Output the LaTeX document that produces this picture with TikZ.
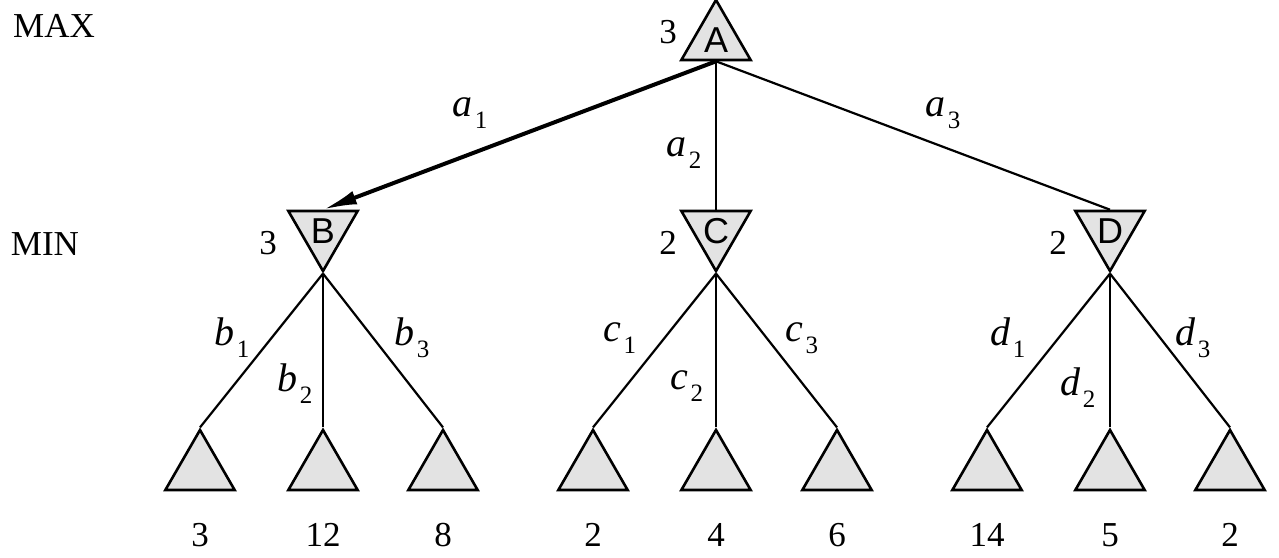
\documentclass[tikz,border=0pt]{standalone}
\usepackage{fontspec}
\setmainfont{Liberation Serif}
\newfontfamily\letterfont{Liberation Sans}
\usepackage{tikz}
\usetikzlibrary{positioning}
\usetikzlibrary{shapes.geometric}
\usetikzlibrary{arrows.meta}
\colorlet{nodefill}{gray!22}
\tikzset{>=latex}
\tikzset{
  maxnode/.style={regular polygon, regular polygon sides=3, draw, line width=1.3pt,
    fill=nodefill, minimum size=40pt, inner sep=0pt, font=\fontsize{18}{20}\letterfont},
  minnode/.style={maxnode, shape border rotate=180},
  leafnode/.style={maxnode},
  edge/.style={line width=1.1pt},
  lab/.style={inner sep=0pt, font=\fontsize{20}{22}\selectfont\itshape},
  val/.style={inner sep=0pt, font=\fontsize{17.5}{20}\selectfont}
}
\newcommand{\sublab}[2]{#1\kern1pt\raisebox{-6pt}{\fontsize{12.5}{14}\selectfont\upshape #2}}

\begin{document}
\begin{tikzpicture}[x=0.5pt,y=-0.5pt]
\useasboundingbox (0,0) rectangle (1279,557);

% Level names
\node[val] (max) at (54,26) {MAX};
\node[val] (min) at (45,244) {MIN};

% Root and MIN nodes
\node[maxnode] (A) at (716,40) {A};
\node[minnode] (B) at (323,231) {B};
\node[minnode] (C) at (716,231) {C};
\node[minnode] (D) at (1110,231) {D};

\node[val] (vA) at (668,32) {3};
\node[val] (vB) at (268,243) {3};
\node[val] (vC) at (668,243) {2};
\node[val] (vD) at (1058,243) {2};

% Leaves
\node[leafnode] (b1) at (200,470) {};
\node[leafnode] (b2) at (323,470) {};
\node[leafnode] (b3) at (443,470) {};
\node[leafnode] (c1) at (593,470) {};
\node[leafnode] (c2) at (716,470) {};
\node[leafnode] (c3) at (837,470) {};
\node[leafnode] (d1) at (987,470) {};
\node[leafnode] (d2) at (1110,470) {};
\node[leafnode] (d3) at (1230,470) {};

% Leaf values
\node[val] (vb1) at (200,535) {3};
\node[val] (vb2) at (323,535) {12};
\node[val] (vb3) at (443,535) {8};
\node[val] (vc1) at (593,535) {2};
\node[val] (vc2) at (716,535) {4};
\node[val] (vc3) at (837,535) {6};
\node[val] (vd1) at (987,535) {14};
\node[val] (vd2) at (1110,535) {5};
\node[val] (vd3) at (1230,535) {2};

% Moves from the root
\draw[edge,-{Latex[length=17pt,width=7pt]},line width=2pt] (A.side 2) -- (B.side 2);
\draw[edge] (A.side 2) -- (C.side 2);
\draw[edge] (A.side 2) -- (D.side 2);
\node[lab] (la1) at (470,113) {\sublab{a}{1}};
\node[lab] (la2) at (684,153) {\sublab{a}{2}};
\node[lab] (la3) at (943,113) {\sublab{a}{3}};

% Moves from the MIN nodes
\draw[edge] (B.corner 1) -- (b1.corner 1);
\draw[edge] (B.corner 1) -- (b2.corner 1);
\draw[edge] (B.corner 1) -- (b3.corner 1);
\draw[edge] (C.corner 1) -- (c1.corner 1);
\draw[edge] (C.corner 1) -- (c2.corner 1);
\draw[edge] (C.corner 1) -- (c3.corner 1);
\draw[edge] (D.corner 1) -- (d1.corner 1);
\draw[edge] (D.corner 1) -- (d2.corner 1);
\draw[edge] (D.corner 1) -- (d3.corner 1);

\node[lab] (lb1) at (232,338) {\sublab{b}{1}};
\node[lab] (lb2) at (295,384) {\sublab{b}{2}};
\node[lab] (lb3) at (412,338) {\sublab{b}{3}};
\node[lab] (lc1) at (620,338) {\sublab{c}{1}};
\node[lab] (lc2) at (687,386) {\sublab{c}{2}};
\node[lab] (lc3) at (802,338) {\sublab{c}{3}};
\node[lab] (ld1) at (1008,338) {\sublab{d}{1}};
\node[lab] (ld2) at (1078,388) {\sublab{d}{2}};
\node[lab] (ld3) at (1193,338) {\sublab{d}{3}};

\end{tikzpicture}
\end{document}
